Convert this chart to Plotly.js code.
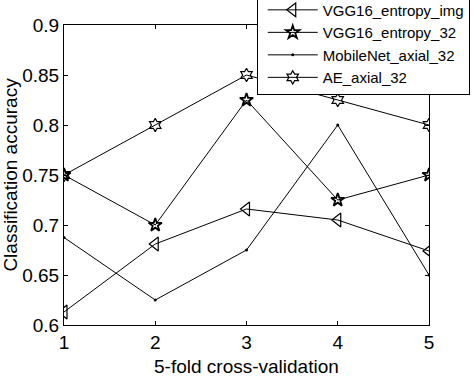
<!DOCTYPE html>
<html>
<head>
<meta charset="utf-8">
<script src="https://cdn.plot.ly/plotly-3.0.1.min.js"></script>
<style>html,body{margin:0;padding:0;background:#fff;}#chart{width:474px;height:376px;}</style>
</head>
<body>
<div id="chart"></div>
<script>
var folds = [1, 2, 3, 4, 5];
var vgg16EntropyImg = [0.613, 0.681, 0.716, 0.705, 0.674];
var vgg16Entropy32 = [0.75, 0.70, 0.825, 0.725, 0.75];
var mobileNetAxial32 = [0.6875, 0.625, 0.675, 0.80, 0.65];
var aeAxial32 = [0.75, 0.80, 0.85, 0.825, 0.80];
var yTickVals = [0.6, 0.65, 0.7, 0.75, 0.8, 0.85, 0.9];
var yTickText = ['0.6', '0.65', '0.7', '0.75', '0.8', '0.85', '0.9'];
var xTickText = ['1', '2', '3', '4', '5'];
var xTitle = '5-fold cross-validation';
var yTitle = 'Classification accuracy';

var lineStyle = {color: '#000', width: 1};
var traces = [
  {x: folds, y: vgg16EntropyImg, name: 'VGG16_entropy_img', mode: 'lines+markers', line: lineStyle,
   marker: {symbol: 'triangle-left-open', size: 12, color: '#000', line: {width: 1.2, color: '#000'}}},
  {x: folds, y: vgg16Entropy32, name: 'VGG16_entropy_32', mode: 'lines+markers', line: lineStyle,
   marker: {symbol: 'star-open', size: 10, color: '#000', line: {width: 1.8, color: '#000'}}},
  {x: folds, y: mobileNetAxial32, name: 'MobileNet_axial_32', mode: 'lines+markers', line: lineStyle,
   marker: {symbol: 'circle', size: 3, color: '#000'}},
  {x: folds, y: aeAxial32, name: 'AE_axial_32', mode: 'lines+markers', line: lineStyle,
   marker: {symbol: 'hexagram-open', size: 10, color: '#000', line: {width: 1.2, color: '#000'}}}
];

var font = {family: 'Liberation Sans, Arial, sans-serif', color: '#000'};
var layout = {
  width: 474, height: 376,
  margin: {l: 64, r: 45, t: 25, b: 51, autoexpand: false},
  paper_bgcolor: '#fff', plot_bgcolor: '#fff',
  font: font,
  showlegend: true,
  legend: {x: 0.528, xanchor: 'left', y: 0.768, yanchor: 'bottom', bgcolor: '#fff',
    bordercolor: '#000', borderwidth: 1, font: {size: 15, family: font.family, color: '#000'},
    itemwidth: 55, traceorder: 'normal'},
  xaxis: {range: [1, 5], tickvals: folds, ticktext: xTickText, showgrid: false, zeroline: false,
    showline: true, linecolor: '#000', linewidth: 1, mirror: 'ticks', ticks: 'inside', ticklen: 4,
    tickcolor: '#000', tickfont: {size: 19, family: font.family, color: '#000'}},
  yaxis: {range: [0.6, 0.9], tickvals: yTickVals, ticktext: yTickText, showgrid: false, zeroline: false,
    showline: true, linecolor: '#000', linewidth: 1, mirror: 'ticks', ticks: 'inside', ticklen: 4,
    tickcolor: '#000', tickfont: {size: 19, family: font.family, color: '#000'},
    title: {text: yTitle, font: {size: 19, family: font.family, color: '#000'}, standoff: 6}},
  annotations: [{text: xTitle, xref: 'paper', yref: 'paper', x: 0.5, y: -0.097, xanchor: 'center',
    yanchor: 'top', showarrow: false, font: {size: 19, family: font.family, color: '#000'}}]
};
Plotly.newPlot('chart', traces, layout, {displayModeBar: false, staticPlot: true}).then(function (gd) {
  // Lengthen legend sample lines and centre the symbols on them, as in the reference legend.
  var legend = gd.querySelector('.legend');
  if (!legend) return;
  legend.querySelectorAll('.legendlines path').forEach(function (p) { p.setAttribute('d', 'M10,0h50'); });
  legend.querySelectorAll('.legendsymbols .legendpoints path').forEach(function (p) {
    p.setAttribute('transform', 'translate(35,0)');
  });
});
</script>
</body>
</html>
